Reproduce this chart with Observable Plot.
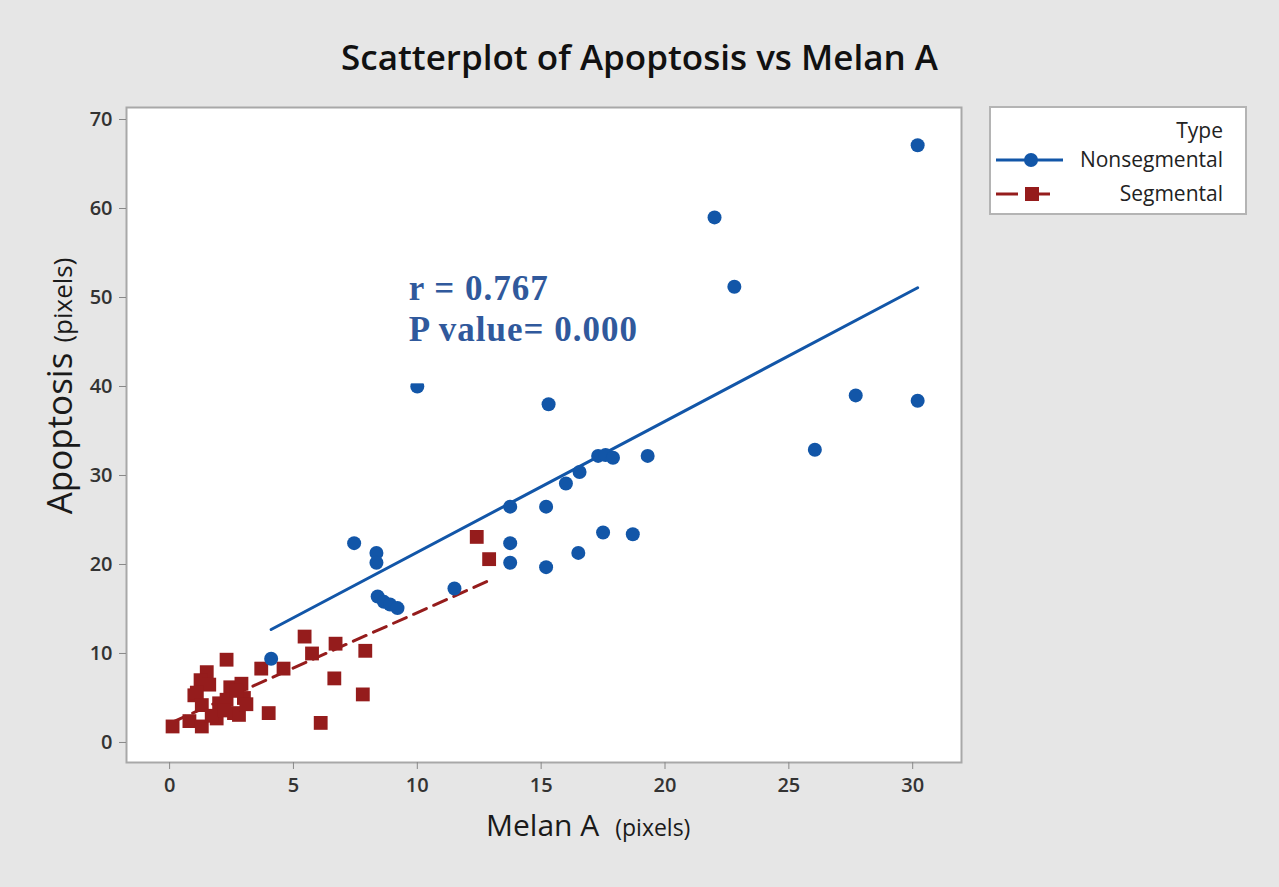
<!DOCTYPE html>
<html>
<head>
<meta charset="utf-8">
<script src="https://cdn.jsdelivr.net/npm/d3@7"></script>
<script src="https://cdn.jsdelivr.net/npm/@observablehq/plot@0.6"></script>
<style>
  html, body { margin: 0; padding: 0; background: #e6e6e6; }
  body { width: 1279px; height: 887px; position: relative; overflow: hidden; font-family: "Open Sans", sans-serif; }
  #title { position: absolute; left: 0; top: 30px; width: 1279px; text-align: center; font-size: 35px; font-weight: 600; color: #111; line-height: 54px; }
  #chart { position: absolute; left: 0; top: 90px; }
  .lab { position: absolute; color: #1a1a1a; white-space: nowrap; }
  .big { font-size: 30px; }
  .small { font-size: 23px; margin-left: 16px; }
  #legend { position: absolute; left: 989px; top: 106px; width: 254px; height: 105px; background: #fff; border: 2px solid #b4b4b4; }
  .annot text { letter-spacing: 1px; }
</style>
</head>
<body>
<div id="title">Scatterplot of Apoptosis vs Melan A</div>
<div id="chart"></div>
<div class="lab" style="left:486px; top:804px;"><span class="big">Melan A</span><span class="small">(pixels)</span></div>
<div class="lab" style="left:58px; top:386px; transform: translate(-50%,-50%) rotate(-90deg);"><span class="big" style="font-size:35px">Apoptosis</span><span class="small" style="font-size:26px; margin-left:10px">(pixels)</span></div>
<div id="legend"></div>
<script>
// Nonsegmental (blue circles)
const nonsegX = [30.2, 22.0, 22.8, 15.3, 10.0, 30.2, 27.7, 26.05, 19.3, 17.3, 17.6, 17.9, 16.55, 16.0, 15.2, 13.75, 13.75, 13.75, 15.2, 16.5, 17.5, 18.7, 11.5, 7.45, 8.35, 8.35, 8.4, 8.65, 8.9, 9.2, 4.1];
const nonsegY = [67.1, 59.0, 51.2, 38.0, 40.0, 38.4, 39.0, 32.9, 32.2, 32.2, 32.3, 32.0, 30.4, 29.1, 26.5, 26.5, 22.4, 20.2, 19.7, 21.3, 23.6, 23.4, 17.3, 22.4, 21.3, 20.2, 16.4, 15.8, 15.5, 15.1, 9.4];
// Segmental (red squares)
const segX = [0.12, 0.8, 1.0, 1.3, 1.5, 1.25, 1.6, 1.1, 1.3, 1.9, 2.0, 2.3, 2.45, 2.3, 2.6, 2.9, 3.0, 2.8, 3.1, 3.7, 4.0, 4.6, 5.45, 5.75, 6.1, 6.65, 6.7, 7.8, 7.9, 12.4, 12.9, 1.7, 2.2, 2.7];
const segY = [1.8, 2.4, 5.3, 1.8, 7.9, 7.0, 6.5, 5.6, 4.2, 2.7, 4.4, 9.3, 6.2, 4.8, 3.3, 6.6, 5.0, 3.1, 4.3, 8.3, 3.3, 8.3, 11.9, 10.0, 2.2, 7.2, 11.1, 5.4, 10.3, 23.1, 20.6, 3.0, 3.6, 5.8];
// Fitted lines
const nonsegFitX = [4.1, 30.2];
const nonsegFitY = [12.7, 51.1];
const segFitX = [0.12, 12.9];
const segFitY = [2.3, 18.2];
const xTicks = [0, 5, 10, 15, 20, 25, 30];
const yTicks = [0, 10, 20, 30, 40, 50, 60, 70];
const annotations = ["r = 0.767", "P value= 0.000"];
const annotX = [9.65, 9.65];
const annotY = [49.7, 45.1];
// annotation text box (white, covers part of a point)
const annotBox = [{x1: 9.5, x2: 19.5, y1: 40.3, y2: 53}];

const blue = "#1256a8";
const red = "#951c1c";

const nonseg = nonsegX.map((x, i) => ({x, y: nonsegY[i]}));
const seg = segX.map((x, i) => ({x, y: segY[i]}));
const nonsegFit = nonsegFitX.map((x, i) => ({x, y: nonsegFitY[i]}));
const segFit = segFitX.map((x, i) => ({x, y: segFitY[i]}));
const annot = annotations.map((t, i) => ({t, x: annotX[i], y: annotY[i]}));

const chart = Plot.plot({
  width: 1279,
  height: 797,
  marginTop: 17,
  marginBottom: 125,
  marginLeft: 126,
  marginRight: 318,
  style: {background: "transparent", fontFamily: "Open Sans, sans-serif"},
  x: {domain: [-1.74, 31.97]},
  y: {domain: [-2.25, 71.35]},
  marks: [
    Plot.frame({fill: "white", stroke: "#a8a8a8", strokeWidth: 2}),
    Plot.axisX({ticks: xTicks, tickSize: 7, tickPadding: 8, fontSize: 20, fontWeight: 600, label: null, stroke: "#888", color: "#333"}),
    Plot.axisY({ticks: yTicks, tickSize: 7, tickPadding: 7, fontSize: 20, fontWeight: 600, label: null, stroke: "#888", color: "#333"}),
    Plot.line(nonsegFit, {x: "x", y: "y", stroke: blue, strokeWidth: 3}),
    Plot.line(segFit, {x: "x", y: "y", stroke: red, strokeWidth: 3, strokeDasharray: "14,8"}),
    Plot.dot(seg, {x: "x", y: "y", symbol: "square", r: 7.8, fill: red, stroke: "none"}),
    Plot.dot(nonseg, {x: "x", y: "y", symbol: "circle", r: 7, fill: blue, stroke: "none"}),
    Plot.rect(annotBox, {x1: "x1", x2: "x2", y1: "y1", y2: "y2", fill: "white"}),
    Plot.text(annot, {x: "x", y: "y", text: "t", textAnchor: "start", lineAnchor: "bottom", fontSize: 35, fontWeight: "bold", fontFamily: "Liberation Serif, serif", fill: "#30599c", className: "annot"})
  ]
});
document.getElementById("chart").appendChild(chart);

// Legend
const legendTypes = ["Nonsegmental", "Segmental"];
const lg = d3.select("#legend").append("svg").attr("width", 254).attr("height", 105);
lg.append("text").attr("x", 232).attr("y", 30).attr("text-anchor", "end").attr("font-size", 21).attr("fill", "#222").attr("font-family", "Open Sans, sans-serif").text("Type");
[0, 1].forEach(i => {
  const cy = 52 + i * 34;
  const g = lg.append("g");
  if (i === 0) {
    g.append("line").attr("x1", 5).attr("x2", 72).attr("y1", cy).attr("y2", cy).attr("stroke", blue).attr("stroke-width", 3);
    g.append("circle").attr("cx", 40).attr("cy", cy).attr("r", 7).attr("fill", blue);
  } else {
    g.append("line").attr("x1", 5).attr("x2", 68).attr("y1", cy).attr("y2", cy).attr("stroke", red).attr("stroke-width", 3).attr("stroke-dasharray", "22,10");
    g.append("rect").attr("x", 34).attr("y", cy - 7).attr("width", 14).attr("height", 14).attr("fill", red);
  }
  lg.append("text").attr("x", 232).attr("y", cy + 7).attr("text-anchor", "end").attr("font-size", 21).attr("fill", "#222").attr("font-family", "Open Sans, sans-serif").text(legendTypes[i]);
});
</script>
</body>
</html>
